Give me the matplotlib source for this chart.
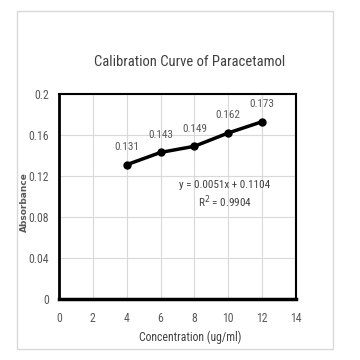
import matplotlib
matplotlib.use("Agg")
import matplotlib.pyplot as plt
from matplotlib.patches import Rectangle

conc = [4, 6, 8, 10, 12]
absorb = [0.131, 0.143, 0.149, 0.162, 0.173]
xticks = [0, 2, 4, 6, 8, 10, 12, 14]
yticks = [0, 0.04, 0.08, 0.12, 0.16, 0.2]
ytick_labels = ['0', '0.04', '0.08', '0.12', '0.16', '0.2']

narrow = ['Roboto Condensed', 'DejaVu Sans']
grey = '#595959'

fig = plt.figure(figsize=(3.6, 3.6), dpi=100)
# light frame round the whole chart
fig.patches.append(Rectangle((17/360, 1 - 349/360), 316/360, 338/360, transform=fig.transFigure,
                             fill=False, edgecolor='#d9d9d9', linewidth=1))
ax = fig.add_axes([59/360, 1 - 299/360, 237/360, 205/360])

ax.plot(conc, absorb, color='black', linewidth=2.5, marker='o', markersize=5, zorder=3)
for x, y in zip(conc, absorb):
    ax.annotate(f'{y:g}', (x, y), xytext=(0, 9), textcoords='offset points',
                ha='center', va='bottom', fontsize=8, color=grey, family=narrow)

ax.set_xlim(0, 14)
ax.set_ylim(0, 0.2)
ax.set_xticks(xticks)
ax.set_yticks(yticks)
ax.set_yticklabels(ytick_labels)
ax.grid(True, color='#d9d9d9', linewidth=0.8)
ax.set_axisbelow(True)
ax.tick_params(length=0, labelsize=8.5, labelcolor=grey)
ax.tick_params(axis='y', pad=7)
ax.tick_params(axis='x', pad=9)
for lab in ax.get_xticklabels() + ax.get_yticklabels():
    lab.set_family(narrow)
for s in ax.spines.values():
    s.set_linewidth(1.5)
    s.set_color('black')
ax.spines['bottom'].set_linewidth(2.5)
ax.spines['left'].set_linewidth(2)

ax.text(0.70, 0.556, 'y = 0.0051x + 0.1104', transform=ax.transAxes,
        ha='center', va='center', fontsize=8, color='#404040', family=narrow)
ax.text(0.70, 0.473, 'R$^2$ = 0.9904', transform=ax.transAxes,
        ha='center', va='center', fontsize=8, color='#404040', family=narrow)

fig.text(190/360, 1 - 62/360, 'Calibration Curve of Paracetamol', ha='center', va='center',
         fontsize=10.5, color='#404040', family=narrow)
fig.text(190/360, 1 - 337/360, 'Concentration (ug/ml)', ha='center', va='center',
         fontsize=8.5, color='#404040', family=narrow)
fig.text(24/360, 1 - 202/360, 'Absorbance', ha='center', va='center', rotation=90,
         fontsize=6.5, color=grey, fontweight='bold')

fig.savefig('out.png', dpi=100)
